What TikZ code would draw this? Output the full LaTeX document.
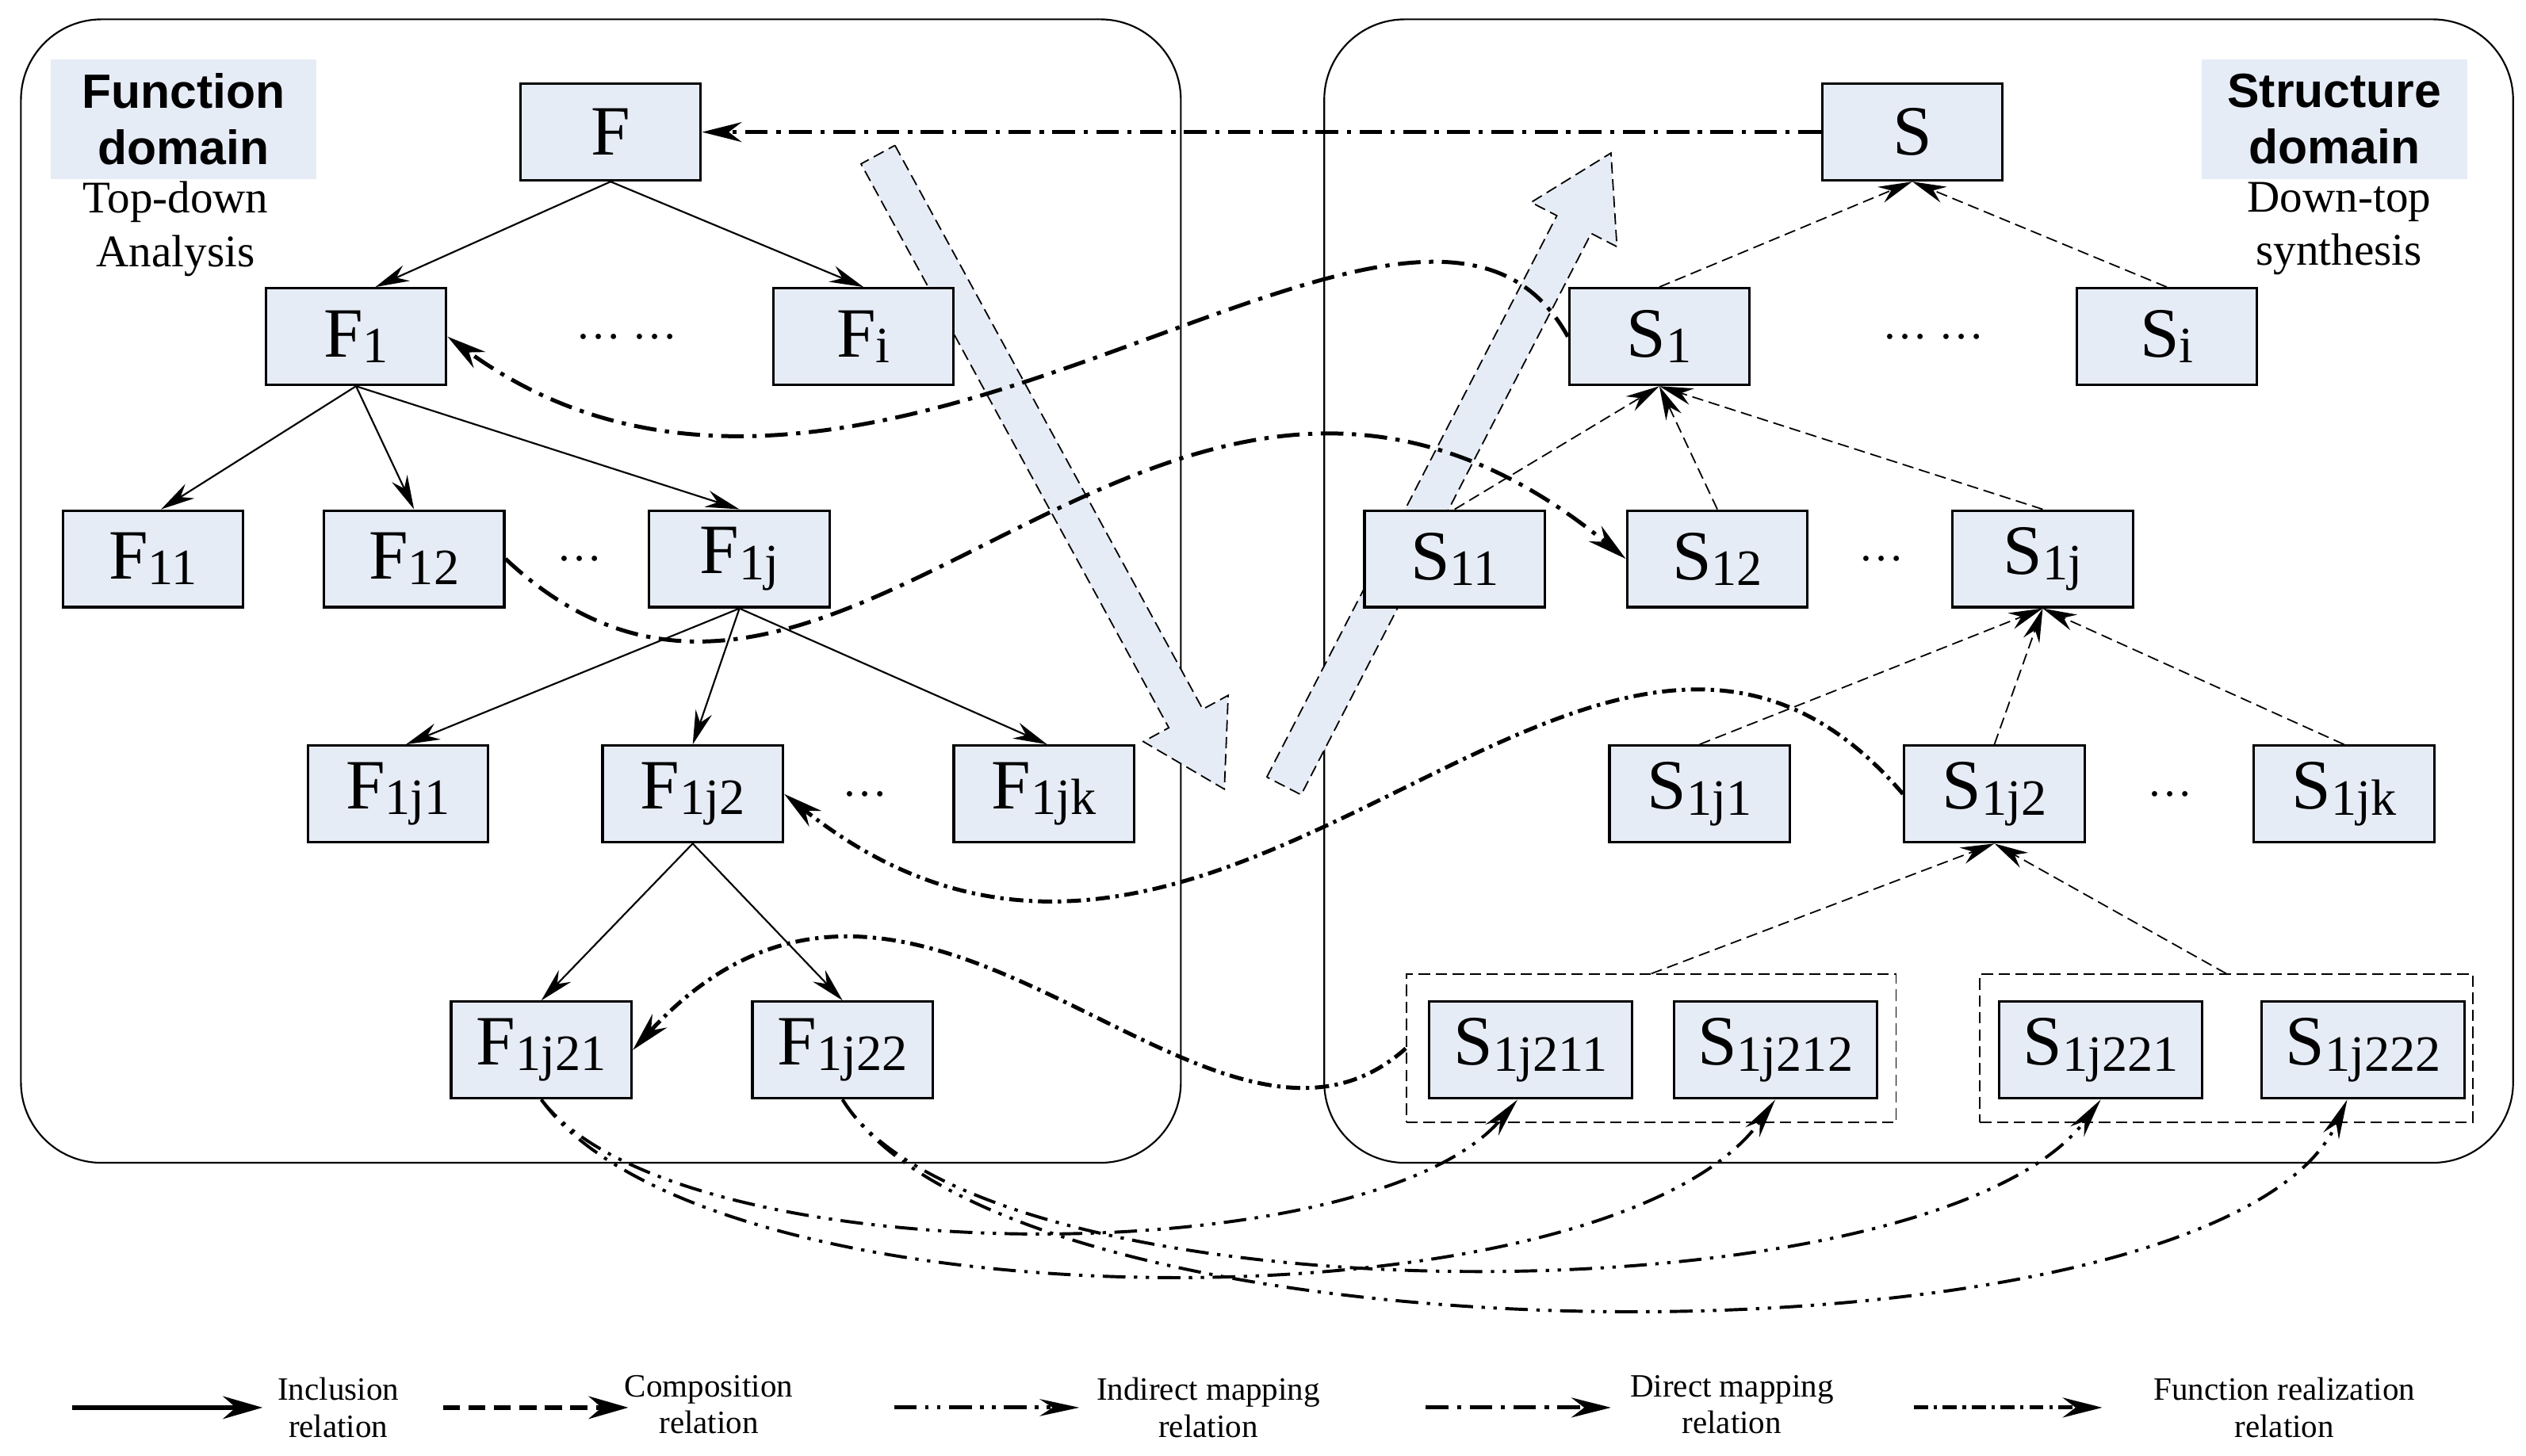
\documentclass[tikz,border=0pt]{standalone}
\usepackage{fontspec}
\setmainfont{Liberation Serif}
\newfontfamily\hsans{Liberation Sans}
\usetikzlibrary{arrows.meta,calc}
\definecolor{boxfill}{RGB}{230,236,246}
\newcommand\sbx[1]{\raisebox{-2pt}{\fontsize{18}{18}\selectfont #1}}
\begin{document}
\begin{tikzpicture}[x=0.02cm,y=-0.02cm,
 bx/.style={draw=black,line width=0.9pt,fill=boxfill,minimum width=2.24cm,minimum height=1.2cm,inner sep=0pt,font=\fontsize{25}{25}\selectfont},
 wbx/.style={bx,minimum width=2.52cm},
 dots/.style={font=\fontsize{16}{16}\selectfont},
 inc/.style={line width=0.6pt,-{Stealth[length=12pt,width=6pt]}},
 comp/.style={line width=0.5pt,dash pattern=on 4pt off 2pt,-{Stealth[length=12pt,width=6pt]}},
 direct/.style={line width=1.4pt,dash pattern=on 8pt off 3pt on 1.5pt off 3pt,-{Stealth[length=14pt,width=7pt]}},
 indirect/.style={line width=1.1pt,dash pattern=on 8pt off 3pt on 1.2pt off 3pt on 1.2pt off 3pt,-{Stealth[length=14pt,width=6pt]}},
 realiz/.style={line width=1.4pt,dash pattern=on 5pt off 2pt on 1.2pt off 2pt,-{Stealth[length=14pt,width=7pt]}},
 legtxt/.style={font=\fontsize{11.5}{13}\selectfont,align=center},
 bigarr/.style={fill=boxfill,draw=black,line width=0.5pt,dash pattern=on 4pt off 2pt},
 tag/.style={fill=boxfill,font=\hsans\bfseries\fontsize{17}{20}\selectfont,align=center,minimum width=3.3cm,minimum height=1.48cm,inner sep=0pt},
 sub/.style={font=\fontsize{16}{19}\selectfont,align=center}]
\useasboundingbox (0,0) rectangle (1568,904);
% frames
\draw[line width=0.6pt,rounded corners=1cm] (13,12) rectangle (733,722);
\draw[line width=0.6pt,rounded corners=1cm] (822,12) rectangle (1560,722);
\node[tag] (fd) at (114,74) {Function\\domain};
\node[sub] (td) at (109,142) {Top-down\\Analysis};
\node[tag] (sd) at (1449,74) {Structure\\domain};
\node[sub] (dt) at (1452,142) {Down-top\\synthesis};
% big arrows
\coordinate (la) at (545,96); \coordinate (lb) at (760,490);
\coordinate (lh) at ($(lb)!1cm!(la)$);
\filldraw[bigarr] ($(la)!0.24cm!90:(lb)$) -- ($(lh)!0.24cm!-90:(la)$) -- ($(lh)!0.6cm!-90:(la)$) -- (lb) -- ($(lh)!0.6cm!90:(la)$) -- ($(lh)!0.24cm!90:(la)$) -- ($(la)!0.24cm!-90:(lb)$) -- cycle;
\coordinate (ra) at (797,488); \coordinate (rb) at (1000,95);
\coordinate (rh) at ($(rb)!1cm!(ra)$);
\filldraw[bigarr] ($(ra)!0.24cm!90:(rb)$) -- ($(rh)!0.24cm!-90:(ra)$) -- ($(rh)!0.6cm!-90:(ra)$) -- (rb) -- ($(rh)!0.6cm!90:(ra)$) -- ($(rh)!0.24cm!90:(ra)$) -- ($(ra)!0.24cm!-90:(rb)$) -- cycle;
% function nodes
\node[bx] (F) at (379,82) {F};
\node[bx] (F1) at (221,209) {F\sbx{1}};
\node[bx] (Fi) at (536,209) {F\sbx{i}};
\node[dots] (d1) at (389,209) {\dots\ \dots};
\node[bx] (F11) at (95,347) {F\sbx{11}};
\node[bx] (F12) at (257,347) {F\sbx{12}};
\node[dots] (d2) at (360,347) {\dots};
\node[bx] (F1j) at (459,347) {F\sbx{1j}};
\node[bx] (F1j1) at (247,493) {F\sbx{1j1}};
\node[bx] (F1j2) at (430,493) {F\sbx{1j2}};
\node[dots] (d3) at (537,493) {\dots};
\node[bx] (F1jk) at (648,493) {F\sbx{1jk}};
\node[bx] (F1j21) at (336,652) {F\sbx{1j21}};
\node[bx] (F1j22) at (523,652) {F\sbx{1j22}};
% structure nodes
\node[bx] (S) at (1187,82) {S};
\node[bx] (S1) at (1030,209) {S\sbx{1}};
\node[dots] (d4) at (1200,209) {\dots\ \dots};
\node[bx] (Si) at (1345,209) {S\sbx{i}};
\node[bx] (S11) at (903,347) {S\sbx{11}};
\node[bx] (S12) at (1066,347) {S\sbx{12}};
\node[dots] (d5) at (1168,347) {\dots};
\node[bx] (S1j) at (1268,347) {S\sbx{1j}};
\node[bx] (S1j1) at (1055,493) {S\sbx{1j1}};
\node[bx] (S1j2) at (1238,493) {S\sbx{1j2}};
\node[dots] (d6) at (1347,493) {\dots};
\node[bx] (S1jk) at (1455,493) {S\sbx{1jk}};
\node[wbx] (S211) at (950,652) {S\sbx{1j211}};
\node[wbx] (S212) at (1102,652) {S\sbx{1j212}};
\node[wbx] (S221) at (1304,652) {S\sbx{1j221}};
\node[wbx] (S222) at (1467,652) {S\sbx{1j222}};
\node[draw,line width=0.5pt,dash pattern=on 4pt off 2pt,minimum width=6.08cm,minimum height=1.84cm] (g1) at (1025,651) {};
\node[draw,line width=0.5pt,dash pattern=on 4pt off 2pt,minimum width=6.12cm,minimum height=1.84cm] (g2) at (1382,651) {};
% inclusion
\draw[inc] (F.south) -- ($(F1.north)+(12,0)$);
\draw[inc] (F.south) -- (Fi.north);
\draw[inc] (F1.south) -- ($(F11.north)+(5,0)$);
\draw[inc] (F1.south) -- (F12.north);
\draw[inc] (F1.south) -- (F1j.north);
\draw[inc] (F1j.south) -- ($(F1j1.north)+(5,0)$);
\draw[inc] (F1j.south) -- (F1j2.north);
\draw[inc] (F1j.south) -- ($(F1jk.north)+(2,0)$);
\draw[inc] (F1j2.south) -- (F1j21.north);
\draw[inc] (F1j2.south) -- (F1j22.north);
% composition
\draw[comp] (S1.north) -- (S.south);
\draw[comp] (Si.north) -- (S.south);
\draw[comp] (S11.north) -- (S1.south);
\draw[comp] (S12.north) -- (S1.south);
\draw[comp] (S1j.north) -- (S1.south);
\draw[comp] (S1j1.north) -- (S1j.south);
\draw[comp] (S1j2.north) -- (S1j.south);
\draw[comp] (S1jk.north) -- (S1j.south);
\draw[comp] (g1.north) -- (S1j2.south);
\draw[comp] (g2.north) -- (S1j2.south);
% direct mapping
\draw[direct] (S.west) -- (F.east);
\draw[direct] (S1.west) .. controls (880,40) and (540,400) .. (F1.east);
\draw[direct] (F12.east) .. controls (520,540) and (720,110) .. (S12.west);
% function realization
\draw[realiz] (S1j2.west) .. controls (990,270) and (760,710) .. (F1j2.east);
\draw[realiz] (g1.west) .. controls (750,760) and (570,460) .. (F1j21.east);
% indirect mapping
\draw[indirect] (F1j21.south) .. controls (420,792) and (850,792) .. ($(S211.south)+(-8,0)$);
\draw[indirect] (F1j21.south) .. controls (440,828) and (1000,828) .. (S212.south);
\draw[indirect] (F1j22.south) .. controls (610,823) and (1200,823) .. (S221.south);
\draw[indirect] (F1j22.south) .. controls (630,856) and (1380,856) .. ($(S222.south)+(-10,0)$);
% legend
\coordinate (l1a) at (45,874); \coordinate (l1b) at (163,874);
\coordinate (l2a) at (275,874); \coordinate (l2b) at (390,874);
\coordinate (l3a) at (555,874); \coordinate (l3b) at (670,874);
\coordinate (l4a) at (885,874); \coordinate (l4b) at (1000,874);
\coordinate (l5a) at (1188,874); \coordinate (l5b) at (1305,874);
\draw[line width=1.6pt,-{Stealth[length=14pt,width=8pt]}] (l1a) -- (l1b);
\draw[line width=1.6pt,dash pattern=on 6pt off 3pt,-{Stealth[length=14pt,width=8pt]}] (l2a) -- (l2b);
\draw[indirect,line width=1.4pt] (l3a) -- (l3b);
\draw[direct] (l4a) -- (l4b);
\draw[realiz] (l5a) -- (l5b);
\node[legtxt] (t1) at (210,874) {Inclusion\\relation};
\node[legtxt] (t2) at (440,872) {Composition\\relation};
\node[legtxt] (t3) at (750,874) {Indirect mapping\\relation};
\node[legtxt] (t4) at (1075,872) {Direct mapping\\relation};
\node[legtxt] (t5) at (1418,874) {Function realization\\relation};
\end{tikzpicture}
\end{document}
